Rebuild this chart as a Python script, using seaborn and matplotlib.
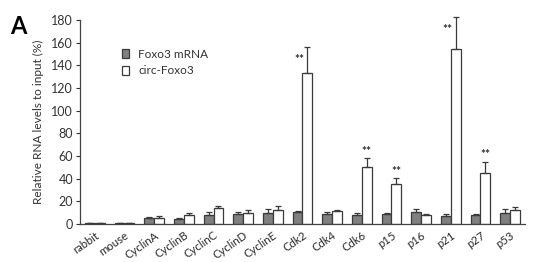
import numpy as np
import pandas as pd
import matplotlib
matplotlib.use("Agg")
import matplotlib.pyplot as plt
import seaborn as sns

categories = ["rabbit", "mouse", "CyclinA", "CyclinB", "CyclinC", "CyclinD", "CyclinE",
              "Cdk2", "Cdk4", "Cdk6", "p15", "p16", "p21", "p27", "p53"]
mrna_vals = [0.5, 0.8, 5.0, 4.4, 7.6, 8.5, 10.0, 10.6, 8.5, 8.0, 8.5, 10.6, 7.0, 7.7, 10.0]
mrna_err = [0.2, 0.3, 1.0, 0.6, 3.0, 2.3, 3.5, 0.5, 2.5, 2.0, 1.5, 3.0, 1.5, 1.0, 3.0]
circ_vals = [0.5, 0.5, 5.5, 8.0, 14.0, 9.7, 12.8, 133.0, 11.5, 50.0, 35.3, 8.3, 154.5, 44.7, 12.0]
circ_err = [0.2, 0.2, 1.5, 1.5, 2.0, 2.3, 2.7, 23.0, 0.8, 8.0, 5.0, 0.3, 28.0, 10.3, 3.0]
series = ["Foxo3 mRNA", "circ-Foxo3"]
significant = ["Cdk2", "Cdk6", "p15", "p21", "p27"]

sns.set_theme(style="white")
plt.rcParams['font.family'] = ['Lato', 'DejaVu Sans']

df = pd.DataFrame({
    "gene": categories * 2,
    "value": mrna_vals + circ_vals,
    "series": [series[0]] * len(categories) + [series[1]] * len(categories),
})

fig = plt.figure(figsize=(5.53, 2.62), dpi=100)
ax = fig.add_axes([0.1447, 0.145, 0.8046, 0.7787])

edge = "#3a3a3a"
sns.barplot(data=df, x="gene", y="value", hue="series", order=categories,
            hue_order=series, palette=["#808080", "#ffffff"], width=0.66,
            errorbar=None, edgecolor=edge, linewidth=0.9, ax=ax, legend=True)

# error bars (upward only)
n = len(categories)
patches = ax.patches[:2 * n]
errs = mrna_err + circ_err
vals = mrna_vals + circ_vals
for p, v, e in zip(patches, vals, errs):
    cx = p.get_x() + p.get_width() / 2
    ax.errorbar(cx, v, yerr=[[0], [e]], fmt="none", ecolor=edge,
                elinewidth=0.9, capsize=2.2, capthick=0.9, clip_on=False, zorder=3)

# significance stars
for i, g in enumerate(categories):
    if g not in significant:
        continue
    p = patches[n + i]
    cx = p.get_x() + p.get_width() / 2
    top = circ_vals[i] + circ_err[i]
    if g in ("Cdk2", "p21"):
        ax.text(cx - 0.27, top - 16, "**", ha="center", va="bottom",
                fontsize=8.5, fontweight="bold", color="#333333")
    else:
        ax.text(cx, top + 1.5, "**", ha="center", va="bottom",
                fontsize=8.5, fontweight="bold", color="#333333")

ax.set_xlim(-0.5, n - 0.5)
ax.set_ylim(0, 180)
ax.set_yticks(np.arange(0, 181, 20))
ax.set_xlabel("")
ax.set_ylabel("Relative RNA levels to input (%)", fontsize=8.5, color="#333333", labelpad=5)
ax.tick_params(axis="y", labelsize=9, colors="#333333", left=True, length=3, width=0.8, pad=2)
ax.tick_params(axis="x", labelsize=8.2, colors="#2a2a2a", bottom=False, length=0, pad=4)
plt.setp(ax.get_xticklabels(), rotation=35, ha="right", va="top", rotation_mode="anchor")
for s in ["top", "right"]:
    ax.spines[s].set_visible(False)
for s in ["left", "bottom"]:
    ax.spines[s].set_color("#444444")
    ax.spines[s].set_linewidth(0.9)

leg = ax.legend(loc="upper left", bbox_to_anchor=(0.07, 0.91), frameon=False,
                fontsize=8.5, handlelength=0.6, handleheight=0.8, handletextpad=0.8,
                labelspacing=0.45)
for t in leg.get_texts():
    t.set_color("#333333")

fig.text(0.018, 0.87, "A", fontsize=17, fontweight="bold", color="black")

fig.savefig("out.png", dpi=100)
